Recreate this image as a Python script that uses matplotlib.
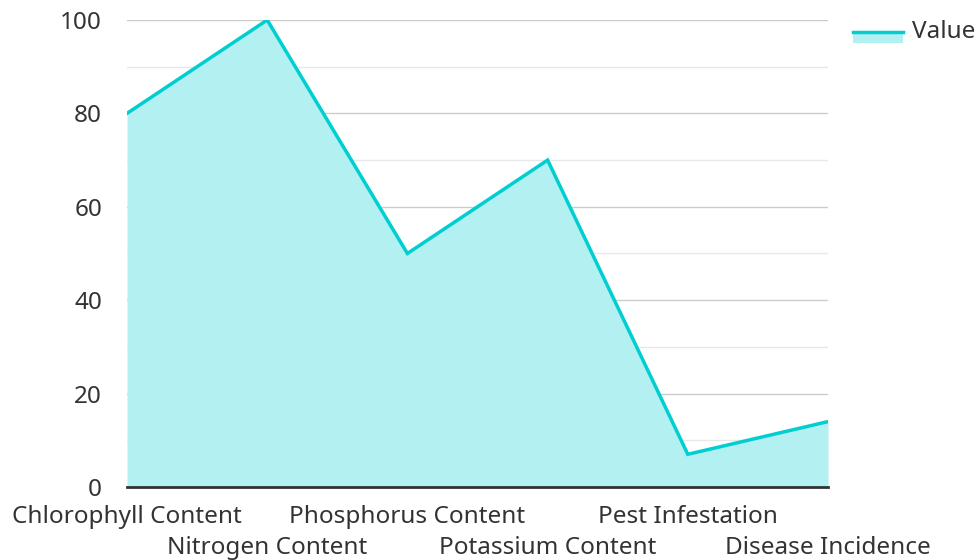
import matplotlib.pyplot as plt
from matplotlib.lines import Line2D
from matplotlib.patches import Rectangle

plt.rcParams['font.family'] = ['Noto Sans', 'DejaVu Sans']

categories = ["Chlorophyll Content", "Nitrogen Content", "Phosphorus Content",
              "Potassium Content", "Pest Infestation", "Disease Incidence"]
values = [80, 100, 50, 70, 7, 14]
yticks = [0, 20, 40, 60, 80, 100]

line_col = "#00CED1"
fill_col = "#B2F0F1"
txt_col = "#333333"
fs = 17.5

fig = plt.figure(figsize=(9.77, 5.6), dpi=100)
ax = fig.add_axes([0.13, 0.1304, 0.7175, 0.8339])

x = list(range(len(categories)))
ax.fill_between(x, values, 0, color=fill_col, linewidth=0, zorder=2)
ax.plot(x, values, color=line_col, linewidth=2.5, zorder=3, solid_joinstyle='miter')

ax.set_xlim(0, len(categories) - 1)
ax.set_ylim(0, 100)
ax.set_yticks(yticks)
ax.set_yticks(range(10, 100, 20), minor=True)
ax.set_yticklabels([str(v) for v in yticks], fontsize=fs, color=txt_col)
ax.grid(axis='y', which='major', color="#cccccc", linewidth=1, zorder=1)
ax.grid(axis='y', which='minor', color="#e8e8e8", linewidth=1, zorder=1)
ax.tick_params(axis='y', which='both', length=0, pad=18)

# alternate the x labels on two rows: even ones as major ticks, odd ones as minor
ax.set_xticks(x[0::2])
ax.set_xticklabels(categories[0::2], fontsize=fs, color=txt_col)
ax.set_xticks(x[1::2], minor=True)
ax.set_xticklabels(categories[1::2], minor=True, fontsize=fs, color=txt_col)
ax.tick_params(axis='x', which='major', length=0, pad=13)
ax.tick_params(axis='x', which='minor', length=0, pad=35)

for s in ['top', 'right', 'left']:
    ax.spines[s].set_visible(False)
ax.spines['bottom'].set_color(txt_col)
ax.spines['bottom'].set_linewidth(2)
ax.spines['bottom'].set_zorder(4)

# legend drawn by hand: line on top of a fill swatch
fig.patches.append(Rectangle((853 / 977, 1 - 43 / 560), 50 / 977, 10 / 560,
                             transform=fig.transFigure, color=fill_col, linewidth=0))
fig.lines.append(Line2D([853 / 977, 903 / 977], [1 - 32 / 560, 1 - 32 / 560],
                        transform=fig.transFigure, color=line_col, linewidth=2.5))
fig.text(912 / 977, 1 - 32 / 560, "Value", fontsize=fs, color=txt_col, va='center')

fig.savefig("out.png", dpi=100)
